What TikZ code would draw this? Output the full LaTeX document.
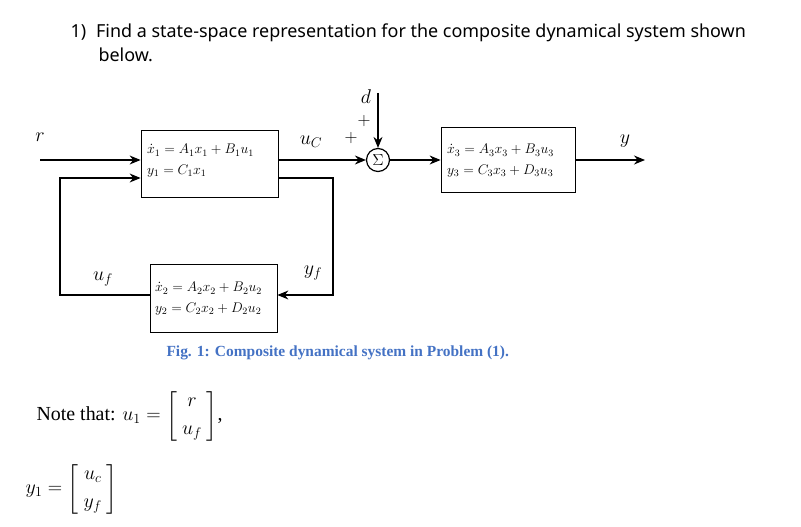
\RequirePackage{fix-cm}
\documentclass[tikz,border=0pt]{standalone}
\usepackage{fontspec}
\setmainfont{Liberation Serif}
\newfontfamily\titlefont{Noto Sans}
\usepackage{amsmath}
\usepackage{xcolor}
\usetikzlibrary{arrows.meta,positioning}
\definecolor{capblue}{HTML}{4472C4}
\begin{document}
\begin{tikzpicture}[
    x=1bp, y=-1bp,
    block/.style={rectangle, draw, line width=0.8pt, inner sep=0pt},
    eqn/.style={inner sep=0pt, align=left, font=\fontsize{14}{21}\selectfont},
    arrow/.style={-{Stealth[length=11pt,width=9pt]}, line width=1.3pt},
    lbl/.style={font=\fontsize{20}{22}\selectfont}
]
    \useasboundingbox (0,0) rectangle (801,527);
    % Title
    \node[anchor=base west, font=\titlefont\fontsize{18}{21}\selectfont] (title1) at (67,38) {1)\hspace{10bp}Find a state-space representation for the composite dynamical system shown};
    \node[anchor=base west, font=\titlefont\fontsize{18}{21}\selectfont] (title2) at (95,62) {below.};

    % Blocks
    \node[block, minimum width=137bp, minimum height=67bp] (sys1) at (209.5,163.5) {};
    \node[eqn, anchor=west] (eq1) at (147,161) {$\dot x_1 = A_1x_1 + B_1u_1$\\$y_1 = C_1x_1$};
    \node[block, minimum width=127bp, minimum height=68bp] (sys2) at (213.5,298) {};
    \node[eqn, anchor=west] (eq2) at (155,299) {$\dot x_2 = A_2x_2 + B_2u_2$\\$y_2 = C_2x_2 + D_2u_2$};
    \node[block, minimum width=134bp, minimum height=65bp] (sys3) at (508,159.5) {};
    \node[eqn, anchor=west] (eq3) at (447,161) {$\dot x_3 = A_3x_3 + B_3u_3$\\$y_3 = C_3x_3 + D_3u_3$};

    % Summing junction
    \node[circle, draw, line width=1.2pt, minimum size=23bp, inner sep=0pt, font=\fontsize{16}{18}\selectfont] (sum) at (378,160) {$\Sigma$};

    % Free ends
    \coordinate (rin) at (40,160);
    \coordinate (yout) at (645,160);
    \coordinate (din) at (378,93);
    \coordinate (yfturn) at (333,178);
    \coordinate (ufturn) at (60,295);

    % Connectors
    \draw[arrow] (rin) -- (sys1.west |- rin);
    \draw[arrow] (sys1.east |- sum) -- (sum);
    \draw[arrow] (din) -- (sum);
    \draw[arrow] (sum) -- (sys3.west |- sum);
    \draw[arrow] (sys3.east |- yout) -- (yout);
    \draw[arrow] (sys1.east |- yfturn) -- (yfturn) |- (sys2.east |- ufturn);
    \draw[arrow] (sys2.west |- ufturn) -- (ufturn) |- (sys1.west |- yfturn);

    % Labels
    \node[lbl] (rlbl) at (40,137) {$r$};
    \node[lbl] (uclbl) at (311,142) {$u_C$};
    \node[lbl] (dlbl) at (366,97) {$d$};
    \node[lbl, font=\fontsize{18}{20}\selectfont] (p1) at (364,121) {$+$};
    \node[lbl, font=\fontsize{18}{20}\selectfont] (p2) at (351,138) {$+$};
    \node[lbl] (ylbl) at (625,141) {$y$};
    \node[lbl] (yflbl) at (313,273) {$y_f$};
    \node[lbl] (uflbl) at (103,279) {$u_f$};

    % Caption
    \node[anchor=base west, text=capblue, font=\bfseries\fontsize{15.5}{18}\selectfont] (cap) at (163,356) {Fig. 1: Composite dynamical system in Problem (1).};

    % Note
    \node[anchor=west, font=\fontsize{20}{24}\selectfont] (note) at (33,416) {Note that: $u_1 = \left[\begin{array}{c} r\\[4pt] u_f \end{array}\right]$,};
    \node[anchor=west, font=\fontsize{20}{24}\selectfont] (note2) at (22,489) {$y_1 = \left[\begin{array}{c} u_c\\[4pt] y_f \end{array}\right]$};
\end{tikzpicture}
\end{document}
